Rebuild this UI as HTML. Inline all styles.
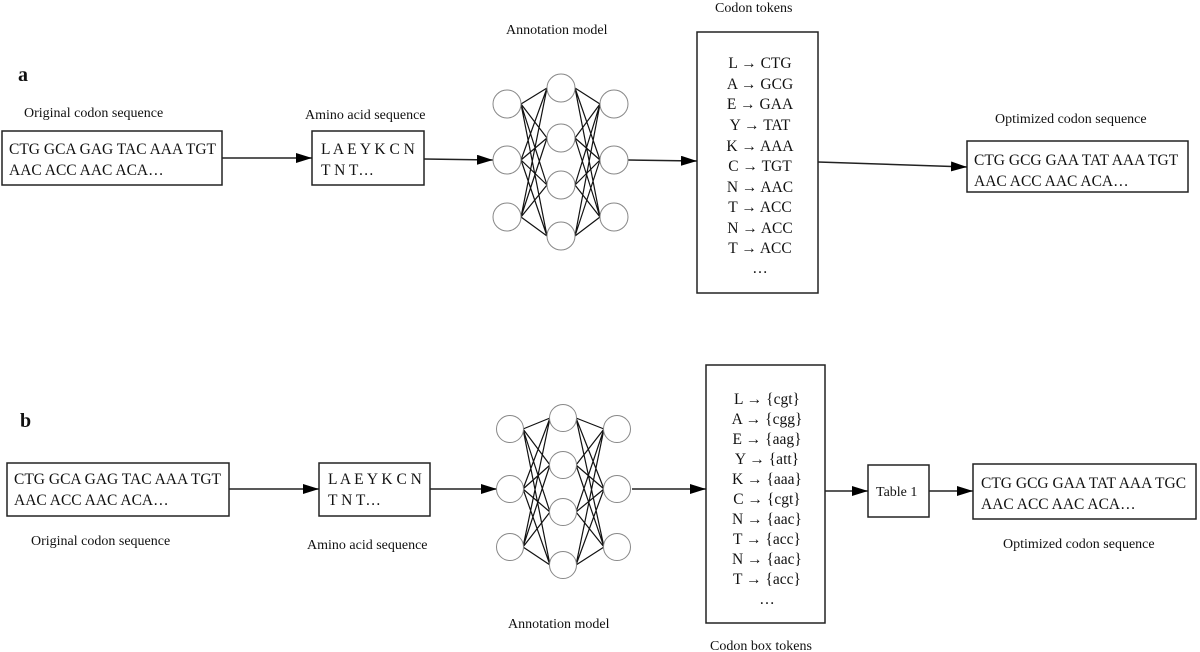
<!DOCTYPE html>
<html><head><meta charset="utf-8"><style>
html,body{margin:0;padding:0;background:#fff;}
svg{display:block;}
text{font-family:"Liberation Serif",serif;fill:#111;}
.t{font-size:15.5px;}
.l{font-size:14px;}
</style></head><body>
<svg width="1200" height="652" viewBox="0 0 1200 652" xmlns="http://www.w3.org/2000/svg">
<defs><marker id="ar" markerWidth="16" markerHeight="10" refX="16" refY="5" orient="auto" markerUnits="userSpaceOnUse"><path d="M0,0 L16,5 L0,10 z" fill="#000"/></marker></defs>
<g stroke="#222" stroke-width="1.5" fill="none">
<!-- panel a -->
<rect x="2" y="131" width="220" height="54"/>
<rect x="312" y="131" width="112" height="54"/>
<rect x="697" y="32" width="121" height="261"/>
<rect x="967" y="141" width="221" height="51"/>
<line x1="222" y1="158" x2="312" y2="158" marker-end="url(#ar)"/>
<line x1="424" y1="159" x2="493" y2="160" marker-end="url(#ar)"/>
<line x1="628" y1="160" x2="697" y2="161" marker-end="url(#ar)"/>
<line x1="818" y1="162" x2="967" y2="167" marker-end="url(#ar)"/>
<!-- panel b -->
<rect x="7" y="463" width="222" height="53"/>
<rect x="319" y="463" width="111" height="53"/>
<rect x="706" y="365" width="119" height="258"/>
<rect x="868" y="465" width="61" height="52"/>
<rect x="973" y="464" width="223" height="55"/>
<line x1="229" y1="489" x2="319" y2="489" marker-end="url(#ar)"/>
<line x1="430" y1="489" x2="497" y2="489" marker-end="url(#ar)"/>
<line x1="632" y1="489" x2="706" y2="489" marker-end="url(#ar)"/>
<line x1="825" y1="491" x2="868" y2="491" marker-end="url(#ar)"/>
<line x1="929" y1="491" x2="973" y2="491" marker-end="url(#ar)"/>
</g>
<!-- networks -->
<g stroke="#111" stroke-width="1.2">
<path d="M521,104L547,88M521,104L547,138M521,104L547,185M521,104L547,236M521,160L547,88M521,160L547,138M521,160L547,185M521,160L547,236M521,217L547,88M521,217L547,138M521,217L547,185M521,217L547,236M575,88L600,104M575,88L600,160M575,88L600,217M575,138L600,104M575,138L600,160M575,138L600,217M575,185L600,104M575,185L600,160M575,185L600,217M575,236L600,104M575,236L600,160M575,236L600,217"/>
<path d="M523,429L550,418M523,429L550,465M523,429L550,512M523,429L550,565M523,489L550,418M523,489L550,465M523,489L550,512M523,489L550,565M523,547L550,418M523,547L550,465M523,547L550,512M523,547L550,565M576,418L604,429M576,418L604,489M576,418L604,547M576,465L604,429M576,465L604,489M576,465L604,547M576,512L604,429M576,512L604,489M576,512L604,547M576,565L604,429M576,565L604,489M576,565L604,547"/>
</g>
<g stroke="#888" stroke-width="1" fill="#fff">
<circle cx="507" cy="104" r="14"/><circle cx="507" cy="160" r="14"/><circle cx="507" cy="217" r="14"/>
<circle cx="561" cy="88" r="14"/><circle cx="561" cy="138" r="14"/><circle cx="561" cy="185" r="14"/><circle cx="561" cy="236" r="14"/>
<circle cx="614" cy="104" r="14"/><circle cx="614" cy="160" r="14"/><circle cx="614" cy="217" r="14"/>
<circle cx="510" cy="429" r="13.5"/><circle cx="510" cy="489" r="13.5"/><circle cx="510" cy="547" r="13.5"/>
<circle cx="563" cy="418" r="13.5"/><circle cx="563" cy="465" r="13.5"/><circle cx="563" cy="512" r="13.5"/><circle cx="563" cy="565" r="13.5"/>
<circle cx="617" cy="429" r="13.5"/><circle cx="617" cy="489" r="13.5"/><circle cx="617" cy="547" r="13.5"/>
</g>
<!-- text a -->
<text x="18" y="81" style="font-size:20px;font-weight:bold">a</text>
<text x="24" y="117" class="l">Original codon sequence</text>
<text x="9" y="154" class="t">CTG GCA GAG TAC AAA TGT</text>
<text x="9" y="175" class="t">AAC ACC AAC ACA…</text>
<text x="305" y="119" class="l">Amino acid sequence</text>
<text x="321" y="154" class="t">L A E Y K C N</text>
<text x="321" y="175" class="t">T N T…</text>
<text x="506" y="34" class="l">Annotation model</text>
<text x="715" y="12" class="l">Codon tokens</text>
<g class="t" text-anchor="middle">
<text x="760" y="68">L → CTG</text><text x="760" y="89">A → GCG</text><text x="760" y="109">E → GAA</text><text x="760" y="130">Y → TAT</text><text x="760" y="151">K → AAA</text><text x="760" y="171">C → TGT</text><text x="760" y="192">N → AAC</text><text x="760" y="212">T → ACC</text><text x="760" y="233">N → ACC</text><text x="760" y="253">T → ACC</text><text x="760" y="273">…</text>
</g>
<text x="995" y="123" class="l">Optimized codon sequence</text>
<text x="974" y="165" class="t">CTG GCG GAA TAT AAA TGT</text>
<text x="974" y="186" class="t">AAC ACC AAC ACA…</text>
<!-- text b -->
<text x="20" y="427" style="font-size:20px;font-weight:bold">b</text>
<text x="14" y="484" class="t">CTG GCA GAG TAC AAA TGT</text>
<text x="14" y="505" class="t">AAC ACC AAC ACA…</text>
<text x="31" y="545" class="l">Original codon sequence</text>
<text x="328" y="484" class="t">L A E Y K C N</text>
<text x="328" y="505" class="t">T N T…</text>
<text x="307" y="549" class="l">Amino acid sequence</text>
<text x="508" y="628" class="l">Annotation model</text>
<g class="t" text-anchor="middle">
<text x="767" y="404">L → {cgt}</text><text x="767" y="424">A → {cgg}</text><text x="767" y="444">E → {aag}</text><text x="767" y="464">Y → {att}</text><text x="767" y="484">K → {aaa}</text><text x="767" y="504">C → {cgt}</text><text x="767" y="524">N → {aac}</text><text x="767" y="544">T → {acc}</text><text x="767" y="564">N → {aac}</text><text x="767" y="584">T → {acc}</text><text x="767" y="604">…</text>
</g>
<text x="710" y="650" class="l">Codon box tokens</text>
<text x="876" y="496" class="l">Table 1</text>
<text x="981" y="488" class="t">CTG GCG GAA TAT AAA TGC</text>
<text x="981" y="509" class="t">AAC ACC AAC ACA…</text>
<text x="1003" y="548" class="l">Optimized codon sequence</text>
</svg>
</body></html>
